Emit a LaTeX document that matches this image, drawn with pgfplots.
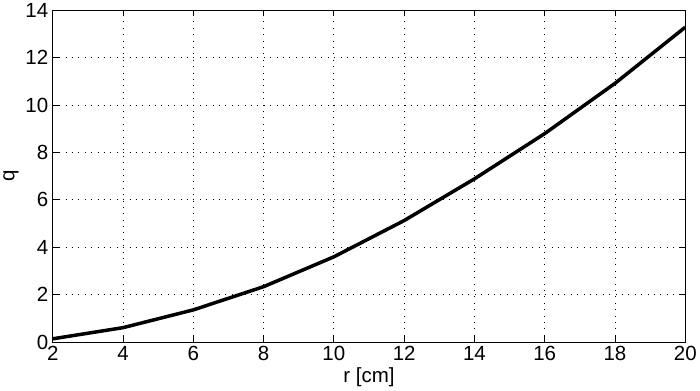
\documentclass[border=0pt]{standalone}
\usepackage{fontspec}
\setmainfont{Liberation Sans}
\usepackage{pgfplots}
\pgfplotsset{compat=1.18}
\begin{document}
\begin{tikzpicture}[x=1pt,y=1pt]
\begin{axis}[
  scale only axis,
  width=633pt, height=332pt,
  xmin=2, xmax=20, ymin=0, ymax=14,
  xtick={2,4,...,20}, ytick={0,2,...,14},
  tick align=inside,
  tick pos=both,
  major tick length=6pt,
  grid=major,
  major grid style={black, line width=0.9pt, dash pattern=on 0.9pt off 5.5pt},
  axis line style={black, line width=0.9pt},
  every tick/.style={black, line width=0.9pt},
  tick label style={font=\fontsize{20.5}{20.5}\selectfont},
  /pgf/number format/assume math mode=true,
  xticklabel style={yshift=-1pt},
  yticklabel style={xshift=-1pt},
  xlabel={r [cm]}, ylabel={q},
  label style={font=\fontsize{20.5}{20.5}\selectfont},
  xlabel style={yshift=0pt},
  ylabel style={yshift=0pt},
]
\addplot[black, line width=3.5pt] coordinates {
  (2,0.14) (4,0.61) (6,1.36) (8,2.34) (10,3.60)
  (12,5.13) (14,6.89) (16,8.80) (18,10.92) (20,13.29)
};
\end{axis}
\end{tikzpicture}
\end{document}
